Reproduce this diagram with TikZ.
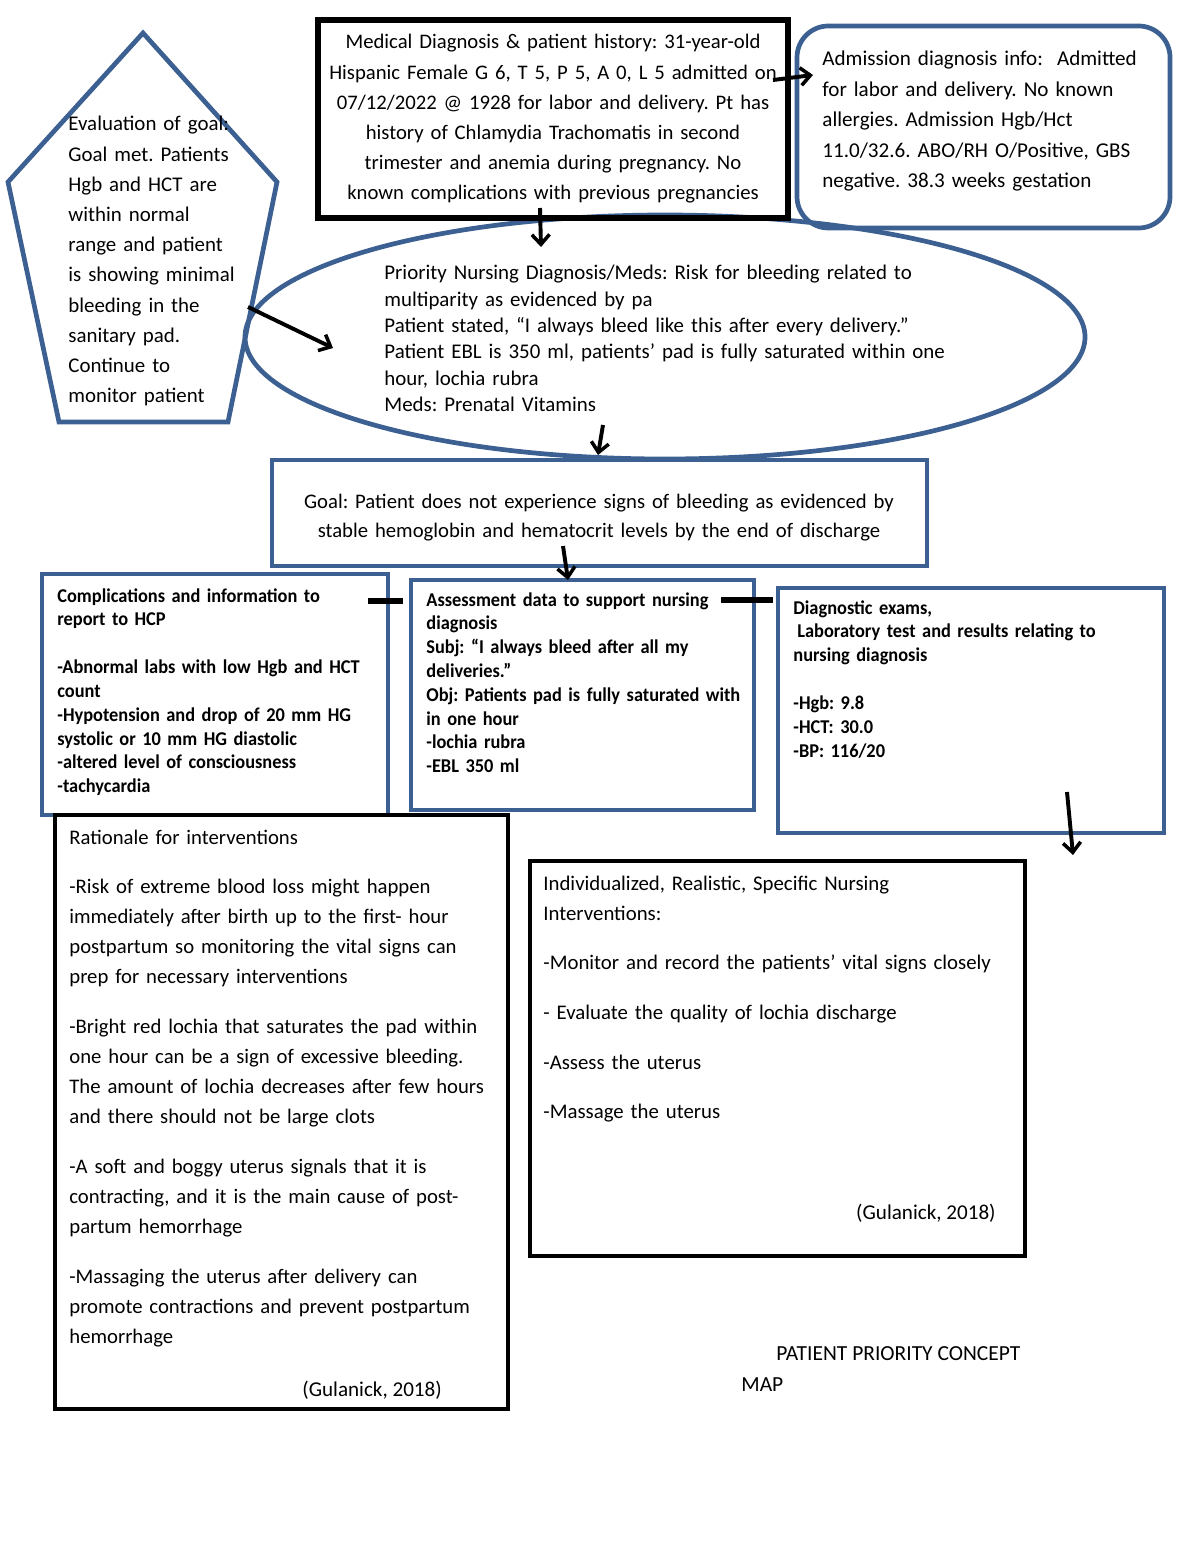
\documentclass[tikz,border=0pt]{standalone}
\usepackage{fontspec}
\setmainfont{Carlito}
\newfontfamily\condbold{Carlito}[FakeStretch=0.94]
\usetikzlibrary{arrows.meta,fit}
\definecolor{boxblue}{RGB}{60,96,145}
\tikzset{
  bluebox/.style={draw=boxblue, line width=2.4bp, inner sep=0pt},
  roundbox/.style={bluebox, rounded corners=16bp},
  heavybox/.style={draw=black, line width=2.6bp, inner sep=0pt},
  blackbox/.style={draw=black, line width=1.6bp, inner sep=0pt},
  txt/.style={anchor=base west, inner sep=0pt, align=left, text width=#1},
  ctxt/.style={anchor=base, inner sep=0pt, align=center, text width=#1},
  boldfont/.style={font=\fontsize{10}{12.2}\selectfont\condbold\bfseries},
  conn/.style={draw=black, line width=2bp, -{Straight Barb[length=5bp,width=9bp,line width=1.8bp]}},
  barline/.style={draw=black, line width=2.6bp},
}
\begin{document}
\frenchspacing
\begin{tikzpicture}[x=0.51bp,y=-0.51bp]
\useasboundingbox (0,0) rectangle (1200,1553);

% pentagon
\coordinate (pt) at (143,33);
\coordinate (pr) at (277,182);
\coordinate (pbr) at (228,422);
\coordinate (pbl) at (59,422);
\coordinate (pl) at (8,182);
\draw[draw=boxblue, line width=2.4bp, line join=miter] (pt) -- (pr) -- (pbr) -- (pbl) -- (pl) -- cycle;
\node[txt=100bp, font=\fontsize{10.7}{15.45}\selectfont] (evaltxt) at (68,131) {Evaluation of goal:\\Goal met. Patients\\Hgb and HCT are\\within normal\\range and patient\\is showing minimal\\bleeding in the\\sanitary pad.\\Continue to\\monitor patient};

% ellipse
\draw[draw=boxblue, line width=2.4bp] (665,337) ellipse [x radius=420, y radius=122];
\coordinate (diag) at (665,337);
\node[txt=320bp, font=\fontsize{10.7}{13.45}\selectfont] (diagtxt) at (384,280) {Priority Nursing Diagnosis/Meds: Risk for bleeding related to\\multiparity as evidenced by pa\\Patient stated, “I always bleed like this after every delivery.”\\Patient EBL is 350 ml, patients’ pad is fully saturated within one\\hour, lochia rubra\\Meds: Prenatal Vitamins};

% medical box
\node[heavybox, fit={(318,20) (788,218)}] (med) {};
\node[ctxt=240bp, font=\fontsize{10.6}{15.4}\selectfont] (medtxt) at (553,49) {Medical Diagnosis \& patient history: 31-year-old\\Hispanic Female G 6, T 5, P 5, A 0, L 5 admitted on\\07/12/2022 @ 1928 for labor and delivery. Pt has\\history of Chlamydia Trachomatis in second\\trimester and anemia during pregnancy. No\\known complications with previous pregnancies};

% admission box
\node[roundbox, fit={(797,26) (1170,228)}] (adm) {};
\node[txt=180bp, font=\fontsize{10.8}{15.55}\selectfont] (admtxt) at (822,66) {Admission diagnosis info:\ \ Admitted\\for labor and delivery. No known\\allergies. Admission Hgb/Hct\\11.0/32.6. ABO/RH O/Positive, GBS\\negative. 38.3 weeks gestation};

% goal box
\node[bluebox, fit={(272,460) (927,566)}] (goal) {};
\node[ctxt=330bp, font=\fontsize{10.6}{15.3}\selectfont] (goaltxt) at (599,508) {Goal: Patient does not experience signs of bleeding as evidenced by\\stable hemoglobin and hematocrit levels by the end of discharge};

% complications
\node[bluebox, fit={(42,574) (388,815)}] (comp) {};
\node[txt=200bp, boldfont] (comptxt) at (57,602) {Complications and information to\\report to HCP\\[12.2bp]-Abnormal labs with low Hgb and HCT\\count\\-Hypotension and drop of 20 mm HG\\systolic or 10 mm HG diastolic\\-altered level of consciousness\\-tachycardia};

% assessment
\node[bluebox, fit={(411,580) (754,810)}] (assess) {};
\node[txt=200bp, boldfont] (assesstxt) at (426,606) {Assessment data to support nursing\\diagnosis\\Subj: “I always bleed after all my\\deliveries.”\\Obj: Patients pad is fully saturated with\\in one hour\\-lochia rubra\\-EBL 350 ml};

% diagnostic
\node[bluebox, fit={(778,588) (1164,833)}] (dx) {};
\node[txt=200bp, boldfont] (dxtxt) at (793,614) {Diagnostic exams,\\\hspace*{2bp}Laboratory test and results relating to\\nursing diagnosis\\[12.2bp]-Hgb: 9.8\\-HCT: 30.0\\-BP: 116/20};

% rationale
\node[blackbox, fit={(55,815) (508,1409)}] (rat) {};
\node[txt=225bp, font=\fontsize{10.6}{15.4}\selectfont] (rattxt) at (69,844) {Rationale for interventions\\[10bp]-Risk of extreme blood loss might happen\\immediately after birth up to the first- hour\\postpartum so monitoring the vital signs can\\prep for necessary interventions\\[10bp]-Bright red lochia that saturates the pad within\\one hour can be a sign of excessive bleeding.\\The amount of lochia decreases after few hours\\and there should not be large clots\\[10bp]-A soft and boggy uterus signals that it is\\contracting, and it is the main cause of post-\\partum hemorrhage\\[10bp]-Massaging the uterus after delivery can\\promote contractions and prevent postpartum\\hemorrhage};
\node[anchor=base west, inner sep=0pt, font=\fontsize{10.8}{15.4}\selectfont] (ratcite) at (302,1396) {(Gulanick, 2018)};

% interventions
\node[blackbox, fit={(530,861) (1025,1256)}] (intv) {};
\node[txt=240bp, font=\fontsize{10.65}{15.4}\selectfont] (intvtxt) at (543,890) {Individualized, Realistic, Specific Nursing\\Interventions:\\[10bp]-Monitor and record the patients’ vital signs closely\\[10bp]- Evaluate the quality of lochia discharge\\[10bp]-Assess the uterus\\[10bp]-Massage the uterus};
\node[anchor=base east, inner sep=0pt, font=\fontsize{10.8}{15.4}\selectfont] (intvcite) at (996,1219) {(Gulanick, 2018)};

% title
\node[anchor=base west, inner sep=0pt, font=\fontsize{11}{15.4}\selectfont] (title1) at (776,1360) {PATIENT PRIORITY CONCEPT};
\node[anchor=base west, inner sep=0pt, font=\fontsize{11}{15.4}\selectfont] (title2) at (741,1391) {MAP};

% connectors
\coordinate (a1s) at (773,80);  \coordinate (a1e) at (813,75);
\coordinate (a2s) at (540,208); \coordinate (a2e) at (541,247);
\coordinate (a3s) at (248,307); \coordinate (a3e) at (333,348);
\coordinate (a4s) at (603,425); \coordinate (a4e) at (598,455);
\coordinate (a5s) at (563,546); \coordinate (a5e) at (568,580);
\coordinate (a6s) at (1067,792); \coordinate (a6e) at (1073,855);
\coordinate (b1s) at (368,601); \coordinate (b1e) at (403,601);
\coordinate (b2s) at (721,600); \coordinate (b2e) at (773,600);
\draw[conn] (a1s) -- (a1e);
\draw[conn] (a2s) -- (a2e);
\draw[conn] (a3s) -- (a3e);
\draw[conn] (a4s) -- (a4e);
\draw[conn] (a5s) -- (a5e);
\draw[conn] (a6s) -- (a6e);
\draw[barline] (b1s) -- (b1e);
\draw[barline] (b2s) -- (b2e);
\end{tikzpicture}
\end{document}
